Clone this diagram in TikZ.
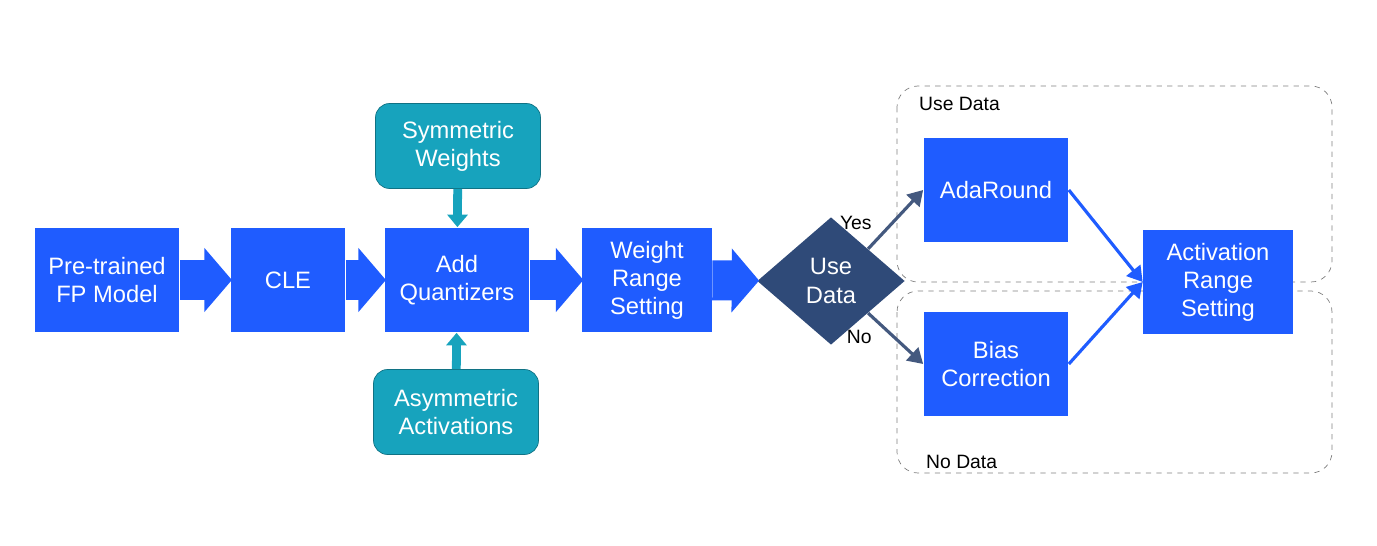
\documentclass[tikz,border=0pt]{standalone}
\usepackage{fontspec}
\setmainfont{Liberation Sans}
\usetikzlibrary{positioning,shapes.geometric,arrows.meta}
\definecolor{qblue}{HTML}{1F5CFF}
\definecolor{qteal}{HTML}{17A3BD}
\definecolor{qslate}{HTML}{2F4A78}
\definecolor{qarrow}{HTML}{44597F}
\tikzset{
  stage/.style={fill=qblue, text=white, minimum width=2.9cm, minimum height=2.1cm, align=center, font=\fontsize{13.5}{16}\selectfont},
  option/.style={fill=qteal, draw=qteal!70!black, rounded corners=8pt, text=white, minimum width=3.3cm, minimum height=1.7cm, align=center, font=\fontsize{13.5}{16}\selectfont},
  fat/.style={qblue, line width=0.8cm, -{Triangle[length=0.55cm, width=1.25cm]}, shorten >=-1pt},
  slim/.style={line width=1.8pt, -{Triangle[length=0.3cm, width=0.35cm]}},
  group/.style={draw=gray, dashed, rounded corners=12pt},
  tag/.style={font=\fontsize{11}{13}\selectfont}
}
\begin{document}
\begin{tikzpicture}[x=0.02cm, y=-0.02cm]
  \useasboundingbox (0,0) rectangle (1377,546);

  % --- dashed groups ---
  \draw[group] (897,86) rectangle (1332,282);
  \draw[group] (897,291) rectangle (1332,473);
  \node[tag, anchor=west] (usedata) at (913,104) {Use Data};
  \node[tag, anchor=west] (nodata) at (920,462) {No Data};

  % --- main chain ---
  \node[stage, minimum width=2.9cm] (fp) at (107,280) {Pre-trained\\FP Model};
  \node[stage, minimum width=2.3cm] (cle) at (288,280) {CLE};
  \node[stage] (addq) at (457,280) {Add\\Quantizers};
  \node[stage, minimum width=2.6cm] (wrs) at (647,280) {Weight\\Range\\Setting};
  \node[diamond, fill=qslate, text=white, aspect=1.15, minimum width=2.95cm, minimum height=2.55cm, inner sep=0pt, align=center, font=\fontsize{13.5}{16}\selectfont] (use) at (831,281) {Use\\Data};
  \node[stage] (ada) at (996,190) {AdaRound};
  \node[stage] (bias) at (996,364) {Bias\\Correction};
  \node[stage, minimum width=3cm] (ars) at (1218,282) {Activation\\Range\\Setting};

  % --- quantizer options ---
  \node[option] (sym) at (458,146) {Symmetric\\Weights};
  \node[option] (asym) at (456,412) {Asymmetric\\Activations};

  % --- connectors ---
  \draw[fat] (fp) -- (cle);
  \draw[fat] (cle) -- (addq);
  \draw[fat] (addq) -- (wrs);
  \draw[fat] (wrs) -- (use);
  \draw[qteal, line width=5pt, -{Triangle[length=0.25cm, width=0.4cm]}] (sym) -- (addq);
  \draw[qteal, line width=5pt, -{Triangle[length=0.25cm, width=0.4cm]}] (asym) -- (addq);
  \draw[slim, qarrow] (use.north east) -- (ada.west) node[pos=0.2, above left, tag, text=black] {Yes};
  \draw[slim, qarrow] (use.south east) -- (bias.west) node[pos=0.2, below left, tag, text=black] {No};
  \draw[slim, qblue] (ada.east) -- (ars.west);
  \draw[slim, qblue] (bias.east) -- (ars.west);
\end{tikzpicture}
\end{document}
